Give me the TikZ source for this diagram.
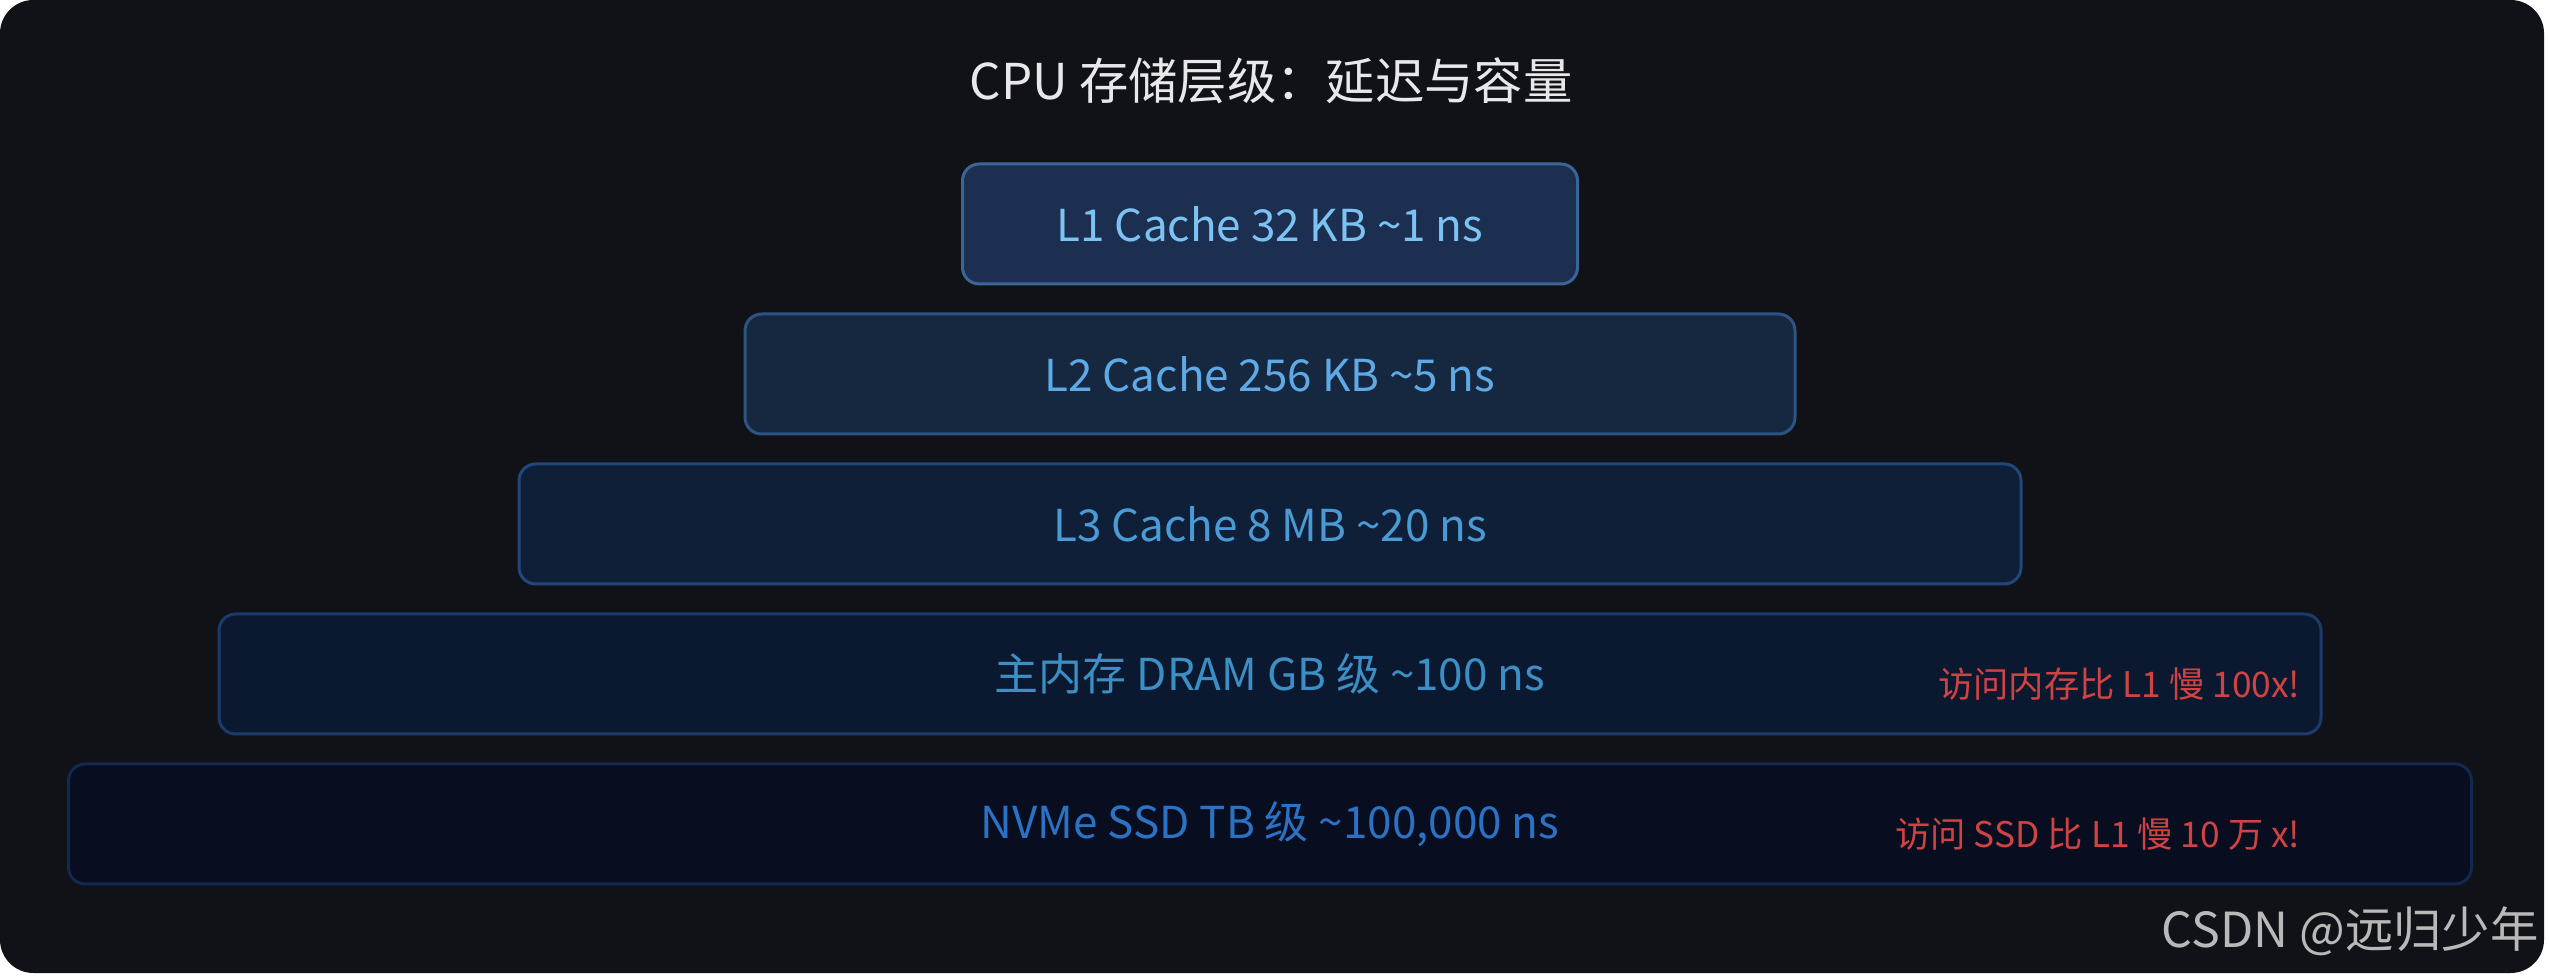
\documentclass[tikz,border=0pt]{standalone}
\usepackage{fontspec}
\setmainfont{Noto Sans CJK SC}
\usetikzlibrary{positioning, calc}
\definecolor{bgdark}{HTML}{111217}
\definecolor{titlewhite}{HTML}{E8E8EC}
\definecolor{notered}{HTML}{D14343}
\definecolor{markgray}{HTML}{B9B9B9}
\definecolor{fillA}{HTML}{1C2F50}\definecolor{drawA}{HTML}{3B6598}\definecolor{textA}{HTML}{7CC3F4}
\definecolor{fillB}{HTML}{15283F}\definecolor{drawB}{HTML}{2E5486}\definecolor{textB}{HTML}{5FAAE6}
\definecolor{fillC}{HTML}{0F1F37}\definecolor{drawC}{HTML}{22477A}\definecolor{textC}{HTML}{4A9AD6}
\definecolor{fillD}{HTML}{0B1930}\definecolor{drawD}{HTML}{1C3B6C}\definecolor{textD}{HTML}{3C8FC4}
\definecolor{fillE}{HTML}{080E20}\definecolor{drawE}{HTML}{13284F}\definecolor{textE}{HTML}{2B72C4}
\tikzset{block/.style={draw, line width=0.9pt, rounded corners=5pt, minimum height=36pt, align=center, font=\fontsize{13.2}{16}\selectfont},
note/.style={text=notered, inner sep=0pt, font=\fontsize{10.6}{12}\selectfont}
}

\begin{document}
\begin{tikzpicture}[x=0.3pt,y=0.3pt,node distance=8.1pt]
\fill[white] (0,0) rectangle (2549,976);
\useasboundingbox (0,0) rectangle (2549,976);
\fill[bgdark, rounded corners=10pt] (0,3) rectangle (2544,976);
\node[text=titlewhite, font=\fontsize{14.8}{18}\selectfont] (title) at (1271,895) {CPU 存储层级：延迟与容量};
\node[block, fill=fillA, draw=drawA, text=textA, minimum width=184.5pt] (l1) at (1270,752) {L1 Cache 32 KB \textasciitilde1 ns};
\node[block, fill=fillB, draw=drawB, text=textB, minimum width=315pt, below=of l1] (l2) {L2 Cache 256 KB \textasciitilde5 ns};
\node[block, fill=fillC, draw=drawC, text=textC, minimum width=450.6pt, below=of l2] (l3) {L3 Cache 8 MB \textasciitilde20 ns};
\node[block, fill=fillD, draw=drawD, text=textD, minimum width=630.6pt, below=of l3] (dram) {主内存 DRAM GB 级 \textasciitilde100 ns};
\node[block, fill=fillE, draw=drawE, text=textE, minimum width=720.9pt, below=of dram] (ssd) {NVMe SSD TB 级 \textasciitilde100,000 ns};
\node[note, anchor=east] (memnote) at ([xshift=-6.6pt,yshift=-3pt]dram.east) {访问内存比 L1 慢 100x!};
\node[note, anchor=east] (ssdnote) at ($(memnote.east |- ssd.center)+(0,-3pt)$) {访问 SSD 比 L1 慢 10 万 x!};
% watermark
\node[anchor=east, inner sep=0pt, text=markgray, font=\fontsize{14.5}{17}\selectfont] (mark) at (2539,45) {CSDN @远归少年};
\end{tikzpicture}
\end{document}
